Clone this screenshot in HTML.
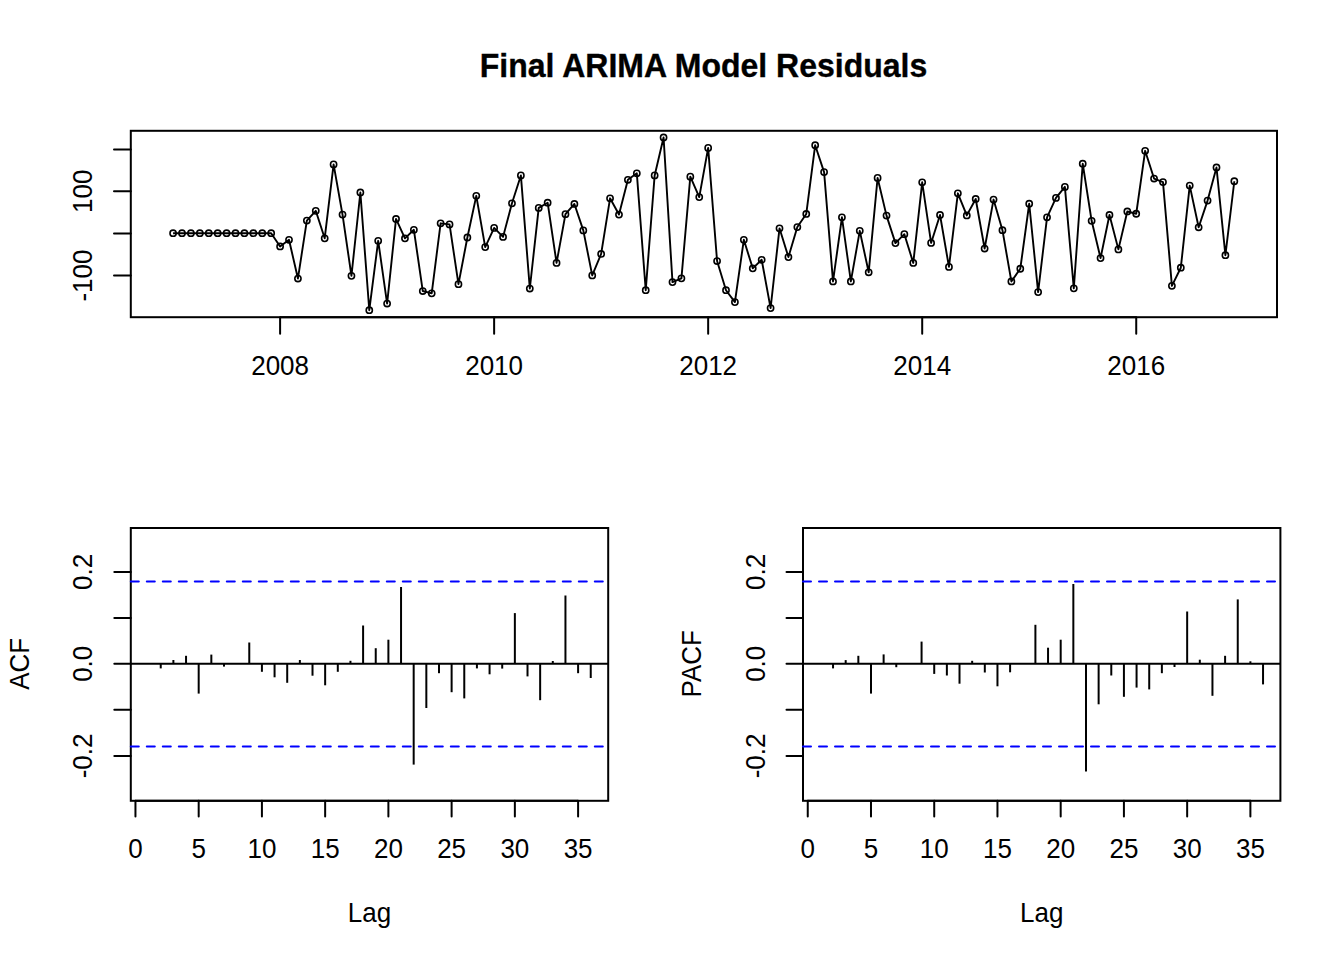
<!DOCTYPE html>
<html><head><meta charset="utf-8"><style>html,body{margin:0;padding:0;background:#fff;}svg{display:block;}</style></head>
<body><svg width="1344" height="960" viewBox="0 0 1344 960">
<rect width="1344" height="960" fill="#fff"/>
<text transform="translate(703.5,76.8) scale(1,1.06)" text-anchor="middle" font-family='"Liberation Sans", sans-serif' font-weight="bold" font-size="32" fill="#000" stroke="#000" stroke-width="0.35">Final ARIMA Model Residuals</text>
<rect x="130.8" y="130.8" width="1146.2" height="186.4" fill="none" stroke="#000" stroke-width="2.0"/>
<line x1="114" y1="149.5" x2="130.8" y2="149.5" stroke="#000" stroke-width="2.0" stroke-linecap="round"/>
<line x1="114" y1="191.3" x2="130.8" y2="191.3" stroke="#000" stroke-width="2.0" stroke-linecap="round"/>
<line x1="114" y1="233.5" x2="130.8" y2="233.5" stroke="#000" stroke-width="2.0" stroke-linecap="round"/>
<line x1="114" y1="275.6" x2="130.8" y2="275.6" stroke="#000" stroke-width="2.0" stroke-linecap="round"/>
<text transform="translate(92,191.3) rotate(-90) scale(1,1.04)" text-anchor="middle" font-family='"Liberation Sans", sans-serif' font-size="26" fill="#000">100</text>
<text transform="translate(92,275.6) rotate(-90) scale(1,1.04)" text-anchor="middle" font-family='"Liberation Sans", sans-serif' font-size="26" fill="#000">-100</text>
<line x1="280.10" y1="317.2" x2="280.10" y2="333.7" stroke="#000" stroke-width="2.0" stroke-linecap="round"/>
<text transform="translate(280.10,374.8) scale(1,1.04)" text-anchor="middle" font-family='"Liberation Sans", sans-serif' font-size="26" fill="#000">2008</text>
<line x1="494.13" y1="317.2" x2="494.13" y2="333.7" stroke="#000" stroke-width="2.0" stroke-linecap="round"/>
<text transform="translate(494.13,374.8) scale(1,1.04)" text-anchor="middle" font-family='"Liberation Sans", sans-serif' font-size="26" fill="#000">2010</text>
<line x1="708.16" y1="317.2" x2="708.16" y2="333.7" stroke="#000" stroke-width="2.0" stroke-linecap="round"/>
<text transform="translate(708.16,374.8) scale(1,1.04)" text-anchor="middle" font-family='"Liberation Sans", sans-serif' font-size="26" fill="#000">2012</text>
<line x1="922.20" y1="317.2" x2="922.20" y2="333.7" stroke="#000" stroke-width="2.0" stroke-linecap="round"/>
<text transform="translate(922.20,374.8) scale(1,1.04)" text-anchor="middle" font-family='"Liberation Sans", sans-serif' font-size="26" fill="#000">2014</text>
<line x1="1136.23" y1="317.2" x2="1136.23" y2="333.7" stroke="#000" stroke-width="2.0" stroke-linecap="round"/>
<text transform="translate(1136.23,374.8) scale(1,1.04)" text-anchor="middle" font-family='"Liberation Sans", sans-serif' font-size="26" fill="#000">2016</text>
<line x1="280.1" y1="317.2" x2="1136.23" y2="317.2" stroke="#000" stroke-width="2.0"/>
<path d="M173.08,233.20 L182.00,233.20 L190.92,233.20 L199.83,233.20 L208.75,233.20 L217.67,233.20 L226.59,233.20 L235.51,233.20 L244.42,233.20 L253.34,233.20 L262.26,233.20 L271.18,233.20 L280.10,246.46 L289.01,239.79 L297.93,278.54 L306.85,220.62 L315.77,210.83 L324.69,238.33 L333.60,164.38 L342.52,214.58 L351.44,275.83 L360.36,192.50 L369.28,310.21 L378.19,240.83 L387.11,303.54 L396.03,218.96 L404.95,238.33 L413.87,229.79 L422.78,291.04 L431.70,293.33 L440.62,223.33 L449.54,224.38 L458.46,284.17 L467.37,237.50 L476.29,195.83 L485.21,247.08 L494.13,227.92 L503.05,236.88 L511.96,203.33 L520.88,175.42 L529.80,288.54 L538.72,207.92 L547.64,202.71 L556.55,262.92 L565.47,214.17 L574.39,203.96 L583.31,230.42 L592.23,275.42 L601.14,253.96 L610.06,198.33 L618.98,214.58 L627.90,179.79 L636.82,173.33 L645.73,290.21 L654.65,175.42 L663.57,137.50 L672.49,282.08 L681.41,278.33 L690.32,176.67 L699.24,197.08 L708.16,147.92 L717.08,261.04 L726.00,290.21 L734.91,302.08 L743.83,239.79 L752.75,268.33 L761.67,259.79 L770.59,308.12 L779.50,228.33 L788.42,257.08 L797.34,227.08 L806.26,213.96 L815.18,145.21 L824.09,172.08 L833.01,281.46 L841.93,217.29 L850.85,281.46 L859.77,230.83 L868.68,272.29 L877.60,177.92 L886.52,215.62 L895.44,243.12 L904.36,234.17 L913.27,262.92 L922.19,182.29 L931.11,242.92 L940.03,215.00 L948.95,266.88 L957.86,193.33 L966.78,215.42 L975.70,198.96 L984.62,248.54 L993.54,199.58 L1002.45,230.21 L1011.37,281.46 L1020.29,268.75 L1029.21,203.75 L1038.13,292.08 L1047.04,217.29 L1055.96,197.92 L1064.88,186.88 L1073.80,288.33 L1082.72,163.75 L1091.63,220.83 L1100.55,258.12 L1109.47,215.00 L1118.39,249.38 L1127.31,211.46 L1136.22,213.75 L1145.14,150.83 L1154.06,178.54 L1162.98,182.08 L1171.90,285.83 L1180.81,267.71 L1189.73,185.62 L1198.65,227.29 L1207.57,200.62 L1216.49,167.50 L1225.40,255.21 L1234.32,181.25" fill="none" stroke="#000" stroke-width="1.9" stroke-linejoin="round"/>
<circle cx="173.08" cy="233.20" r="3.1" fill="none" stroke="#000" stroke-width="1.6"/>
<circle cx="182.00" cy="233.20" r="3.1" fill="none" stroke="#000" stroke-width="1.6"/>
<circle cx="190.92" cy="233.20" r="3.1" fill="none" stroke="#000" stroke-width="1.6"/>
<circle cx="199.83" cy="233.20" r="3.1" fill="none" stroke="#000" stroke-width="1.6"/>
<circle cx="208.75" cy="233.20" r="3.1" fill="none" stroke="#000" stroke-width="1.6"/>
<circle cx="217.67" cy="233.20" r="3.1" fill="none" stroke="#000" stroke-width="1.6"/>
<circle cx="226.59" cy="233.20" r="3.1" fill="none" stroke="#000" stroke-width="1.6"/>
<circle cx="235.51" cy="233.20" r="3.1" fill="none" stroke="#000" stroke-width="1.6"/>
<circle cx="244.42" cy="233.20" r="3.1" fill="none" stroke="#000" stroke-width="1.6"/>
<circle cx="253.34" cy="233.20" r="3.1" fill="none" stroke="#000" stroke-width="1.6"/>
<circle cx="262.26" cy="233.20" r="3.1" fill="none" stroke="#000" stroke-width="1.6"/>
<circle cx="271.18" cy="233.20" r="3.1" fill="none" stroke="#000" stroke-width="1.6"/>
<circle cx="280.10" cy="246.46" r="3.1" fill="none" stroke="#000" stroke-width="1.6"/>
<circle cx="289.01" cy="239.79" r="3.1" fill="none" stroke="#000" stroke-width="1.6"/>
<circle cx="297.93" cy="278.54" r="3.1" fill="none" stroke="#000" stroke-width="1.6"/>
<circle cx="306.85" cy="220.62" r="3.1" fill="none" stroke="#000" stroke-width="1.6"/>
<circle cx="315.77" cy="210.83" r="3.1" fill="none" stroke="#000" stroke-width="1.6"/>
<circle cx="324.69" cy="238.33" r="3.1" fill="none" stroke="#000" stroke-width="1.6"/>
<circle cx="333.60" cy="164.38" r="3.1" fill="none" stroke="#000" stroke-width="1.6"/>
<circle cx="342.52" cy="214.58" r="3.1" fill="none" stroke="#000" stroke-width="1.6"/>
<circle cx="351.44" cy="275.83" r="3.1" fill="none" stroke="#000" stroke-width="1.6"/>
<circle cx="360.36" cy="192.50" r="3.1" fill="none" stroke="#000" stroke-width="1.6"/>
<circle cx="369.28" cy="310.21" r="3.1" fill="none" stroke="#000" stroke-width="1.6"/>
<circle cx="378.19" cy="240.83" r="3.1" fill="none" stroke="#000" stroke-width="1.6"/>
<circle cx="387.11" cy="303.54" r="3.1" fill="none" stroke="#000" stroke-width="1.6"/>
<circle cx="396.03" cy="218.96" r="3.1" fill="none" stroke="#000" stroke-width="1.6"/>
<circle cx="404.95" cy="238.33" r="3.1" fill="none" stroke="#000" stroke-width="1.6"/>
<circle cx="413.87" cy="229.79" r="3.1" fill="none" stroke="#000" stroke-width="1.6"/>
<circle cx="422.78" cy="291.04" r="3.1" fill="none" stroke="#000" stroke-width="1.6"/>
<circle cx="431.70" cy="293.33" r="3.1" fill="none" stroke="#000" stroke-width="1.6"/>
<circle cx="440.62" cy="223.33" r="3.1" fill="none" stroke="#000" stroke-width="1.6"/>
<circle cx="449.54" cy="224.38" r="3.1" fill="none" stroke="#000" stroke-width="1.6"/>
<circle cx="458.46" cy="284.17" r="3.1" fill="none" stroke="#000" stroke-width="1.6"/>
<circle cx="467.37" cy="237.50" r="3.1" fill="none" stroke="#000" stroke-width="1.6"/>
<circle cx="476.29" cy="195.83" r="3.1" fill="none" stroke="#000" stroke-width="1.6"/>
<circle cx="485.21" cy="247.08" r="3.1" fill="none" stroke="#000" stroke-width="1.6"/>
<circle cx="494.13" cy="227.92" r="3.1" fill="none" stroke="#000" stroke-width="1.6"/>
<circle cx="503.05" cy="236.88" r="3.1" fill="none" stroke="#000" stroke-width="1.6"/>
<circle cx="511.96" cy="203.33" r="3.1" fill="none" stroke="#000" stroke-width="1.6"/>
<circle cx="520.88" cy="175.42" r="3.1" fill="none" stroke="#000" stroke-width="1.6"/>
<circle cx="529.80" cy="288.54" r="3.1" fill="none" stroke="#000" stroke-width="1.6"/>
<circle cx="538.72" cy="207.92" r="3.1" fill="none" stroke="#000" stroke-width="1.6"/>
<circle cx="547.64" cy="202.71" r="3.1" fill="none" stroke="#000" stroke-width="1.6"/>
<circle cx="556.55" cy="262.92" r="3.1" fill="none" stroke="#000" stroke-width="1.6"/>
<circle cx="565.47" cy="214.17" r="3.1" fill="none" stroke="#000" stroke-width="1.6"/>
<circle cx="574.39" cy="203.96" r="3.1" fill="none" stroke="#000" stroke-width="1.6"/>
<circle cx="583.31" cy="230.42" r="3.1" fill="none" stroke="#000" stroke-width="1.6"/>
<circle cx="592.23" cy="275.42" r="3.1" fill="none" stroke="#000" stroke-width="1.6"/>
<circle cx="601.14" cy="253.96" r="3.1" fill="none" stroke="#000" stroke-width="1.6"/>
<circle cx="610.06" cy="198.33" r="3.1" fill="none" stroke="#000" stroke-width="1.6"/>
<circle cx="618.98" cy="214.58" r="3.1" fill="none" stroke="#000" stroke-width="1.6"/>
<circle cx="627.90" cy="179.79" r="3.1" fill="none" stroke="#000" stroke-width="1.6"/>
<circle cx="636.82" cy="173.33" r="3.1" fill="none" stroke="#000" stroke-width="1.6"/>
<circle cx="645.73" cy="290.21" r="3.1" fill="none" stroke="#000" stroke-width="1.6"/>
<circle cx="654.65" cy="175.42" r="3.1" fill="none" stroke="#000" stroke-width="1.6"/>
<circle cx="663.57" cy="137.50" r="3.1" fill="none" stroke="#000" stroke-width="1.6"/>
<circle cx="672.49" cy="282.08" r="3.1" fill="none" stroke="#000" stroke-width="1.6"/>
<circle cx="681.41" cy="278.33" r="3.1" fill="none" stroke="#000" stroke-width="1.6"/>
<circle cx="690.32" cy="176.67" r="3.1" fill="none" stroke="#000" stroke-width="1.6"/>
<circle cx="699.24" cy="197.08" r="3.1" fill="none" stroke="#000" stroke-width="1.6"/>
<circle cx="708.16" cy="147.92" r="3.1" fill="none" stroke="#000" stroke-width="1.6"/>
<circle cx="717.08" cy="261.04" r="3.1" fill="none" stroke="#000" stroke-width="1.6"/>
<circle cx="726.00" cy="290.21" r="3.1" fill="none" stroke="#000" stroke-width="1.6"/>
<circle cx="734.91" cy="302.08" r="3.1" fill="none" stroke="#000" stroke-width="1.6"/>
<circle cx="743.83" cy="239.79" r="3.1" fill="none" stroke="#000" stroke-width="1.6"/>
<circle cx="752.75" cy="268.33" r="3.1" fill="none" stroke="#000" stroke-width="1.6"/>
<circle cx="761.67" cy="259.79" r="3.1" fill="none" stroke="#000" stroke-width="1.6"/>
<circle cx="770.59" cy="308.12" r="3.1" fill="none" stroke="#000" stroke-width="1.6"/>
<circle cx="779.50" cy="228.33" r="3.1" fill="none" stroke="#000" stroke-width="1.6"/>
<circle cx="788.42" cy="257.08" r="3.1" fill="none" stroke="#000" stroke-width="1.6"/>
<circle cx="797.34" cy="227.08" r="3.1" fill="none" stroke="#000" stroke-width="1.6"/>
<circle cx="806.26" cy="213.96" r="3.1" fill="none" stroke="#000" stroke-width="1.6"/>
<circle cx="815.18" cy="145.21" r="3.1" fill="none" stroke="#000" stroke-width="1.6"/>
<circle cx="824.09" cy="172.08" r="3.1" fill="none" stroke="#000" stroke-width="1.6"/>
<circle cx="833.01" cy="281.46" r="3.1" fill="none" stroke="#000" stroke-width="1.6"/>
<circle cx="841.93" cy="217.29" r="3.1" fill="none" stroke="#000" stroke-width="1.6"/>
<circle cx="850.85" cy="281.46" r="3.1" fill="none" stroke="#000" stroke-width="1.6"/>
<circle cx="859.77" cy="230.83" r="3.1" fill="none" stroke="#000" stroke-width="1.6"/>
<circle cx="868.68" cy="272.29" r="3.1" fill="none" stroke="#000" stroke-width="1.6"/>
<circle cx="877.60" cy="177.92" r="3.1" fill="none" stroke="#000" stroke-width="1.6"/>
<circle cx="886.52" cy="215.62" r="3.1" fill="none" stroke="#000" stroke-width="1.6"/>
<circle cx="895.44" cy="243.12" r="3.1" fill="none" stroke="#000" stroke-width="1.6"/>
<circle cx="904.36" cy="234.17" r="3.1" fill="none" stroke="#000" stroke-width="1.6"/>
<circle cx="913.27" cy="262.92" r="3.1" fill="none" stroke="#000" stroke-width="1.6"/>
<circle cx="922.19" cy="182.29" r="3.1" fill="none" stroke="#000" stroke-width="1.6"/>
<circle cx="931.11" cy="242.92" r="3.1" fill="none" stroke="#000" stroke-width="1.6"/>
<circle cx="940.03" cy="215.00" r="3.1" fill="none" stroke="#000" stroke-width="1.6"/>
<circle cx="948.95" cy="266.88" r="3.1" fill="none" stroke="#000" stroke-width="1.6"/>
<circle cx="957.86" cy="193.33" r="3.1" fill="none" stroke="#000" stroke-width="1.6"/>
<circle cx="966.78" cy="215.42" r="3.1" fill="none" stroke="#000" stroke-width="1.6"/>
<circle cx="975.70" cy="198.96" r="3.1" fill="none" stroke="#000" stroke-width="1.6"/>
<circle cx="984.62" cy="248.54" r="3.1" fill="none" stroke="#000" stroke-width="1.6"/>
<circle cx="993.54" cy="199.58" r="3.1" fill="none" stroke="#000" stroke-width="1.6"/>
<circle cx="1002.45" cy="230.21" r="3.1" fill="none" stroke="#000" stroke-width="1.6"/>
<circle cx="1011.37" cy="281.46" r="3.1" fill="none" stroke="#000" stroke-width="1.6"/>
<circle cx="1020.29" cy="268.75" r="3.1" fill="none" stroke="#000" stroke-width="1.6"/>
<circle cx="1029.21" cy="203.75" r="3.1" fill="none" stroke="#000" stroke-width="1.6"/>
<circle cx="1038.13" cy="292.08" r="3.1" fill="none" stroke="#000" stroke-width="1.6"/>
<circle cx="1047.04" cy="217.29" r="3.1" fill="none" stroke="#000" stroke-width="1.6"/>
<circle cx="1055.96" cy="197.92" r="3.1" fill="none" stroke="#000" stroke-width="1.6"/>
<circle cx="1064.88" cy="186.88" r="3.1" fill="none" stroke="#000" stroke-width="1.6"/>
<circle cx="1073.80" cy="288.33" r="3.1" fill="none" stroke="#000" stroke-width="1.6"/>
<circle cx="1082.72" cy="163.75" r="3.1" fill="none" stroke="#000" stroke-width="1.6"/>
<circle cx="1091.63" cy="220.83" r="3.1" fill="none" stroke="#000" stroke-width="1.6"/>
<circle cx="1100.55" cy="258.12" r="3.1" fill="none" stroke="#000" stroke-width="1.6"/>
<circle cx="1109.47" cy="215.00" r="3.1" fill="none" stroke="#000" stroke-width="1.6"/>
<circle cx="1118.39" cy="249.38" r="3.1" fill="none" stroke="#000" stroke-width="1.6"/>
<circle cx="1127.31" cy="211.46" r="3.1" fill="none" stroke="#000" stroke-width="1.6"/>
<circle cx="1136.22" cy="213.75" r="3.1" fill="none" stroke="#000" stroke-width="1.6"/>
<circle cx="1145.14" cy="150.83" r="3.1" fill="none" stroke="#000" stroke-width="1.6"/>
<circle cx="1154.06" cy="178.54" r="3.1" fill="none" stroke="#000" stroke-width="1.6"/>
<circle cx="1162.98" cy="182.08" r="3.1" fill="none" stroke="#000" stroke-width="1.6"/>
<circle cx="1171.90" cy="285.83" r="3.1" fill="none" stroke="#000" stroke-width="1.6"/>
<circle cx="1180.81" cy="267.71" r="3.1" fill="none" stroke="#000" stroke-width="1.6"/>
<circle cx="1189.73" cy="185.62" r="3.1" fill="none" stroke="#000" stroke-width="1.6"/>
<circle cx="1198.65" cy="227.29" r="3.1" fill="none" stroke="#000" stroke-width="1.6"/>
<circle cx="1207.57" cy="200.62" r="3.1" fill="none" stroke="#000" stroke-width="1.6"/>
<circle cx="1216.49" cy="167.50" r="3.1" fill="none" stroke="#000" stroke-width="1.6"/>
<circle cx="1225.40" cy="255.21" r="3.1" fill="none" stroke="#000" stroke-width="1.6"/>
<circle cx="1234.32" cy="181.25" r="3.1" fill="none" stroke="#000" stroke-width="1.6"/>
<rect x="130.8" y="528.0" width="477.4" height="272.8" fill="none" stroke="#000" stroke-width="2.0"/>
<line x1="114.3" y1="571.9" x2="130.8" y2="571.9" stroke="#000" stroke-width="2.0" stroke-linecap="round"/>
<line x1="114.3" y1="617.9" x2="130.8" y2="617.9" stroke="#000" stroke-width="2.0" stroke-linecap="round"/>
<line x1="114.3" y1="663.8" x2="130.8" y2="663.8" stroke="#000" stroke-width="2.0" stroke-linecap="round"/>
<line x1="114.3" y1="709.8" x2="130.8" y2="709.8" stroke="#000" stroke-width="2.0" stroke-linecap="round"/>
<line x1="114.3" y1="755.9" x2="130.8" y2="755.9" stroke="#000" stroke-width="2.0" stroke-linecap="round"/>
<text transform="translate(92.3,571.9) rotate(-90) scale(1,1.04)" text-anchor="middle" font-family='"Liberation Sans", sans-serif' font-size="26" fill="#000">0.2</text>
<text transform="translate(92.3,663.8) rotate(-90) scale(1,1.04)" text-anchor="middle" font-family='"Liberation Sans", sans-serif' font-size="26" fill="#000">0.0</text>
<text transform="translate(92.3,755.9) rotate(-90) scale(1,1.04)" text-anchor="middle" font-family='"Liberation Sans", sans-serif' font-size="26" fill="#000">-0.2</text>
<text transform="translate(29.3,663.8) rotate(-90) scale(1,1.04)" text-anchor="middle" font-family='"Liberation Sans", sans-serif' font-size="26" fill="#000">ACF</text>
<line x1="135.45" y1="800.8" x2="135.45" y2="816.5" stroke="#000" stroke-width="2.0" stroke-linecap="round"/>
<text transform="translate(135.45,857.9) scale(1,1.04)" text-anchor="middle" font-family='"Liberation Sans", sans-serif' font-size="26" fill="#000">0</text>
<line x1="198.69" y1="800.8" x2="198.69" y2="816.5" stroke="#000" stroke-width="2.0" stroke-linecap="round"/>
<text transform="translate(198.69,857.9) scale(1,1.04)" text-anchor="middle" font-family='"Liberation Sans", sans-serif' font-size="26" fill="#000">5</text>
<line x1="261.92" y1="800.8" x2="261.92" y2="816.5" stroke="#000" stroke-width="2.0" stroke-linecap="round"/>
<text transform="translate(261.92,857.9) scale(1,1.04)" text-anchor="middle" font-family='"Liberation Sans", sans-serif' font-size="26" fill="#000">10</text>
<line x1="325.15" y1="800.8" x2="325.15" y2="816.5" stroke="#000" stroke-width="2.0" stroke-linecap="round"/>
<text transform="translate(325.15,857.9) scale(1,1.04)" text-anchor="middle" font-family='"Liberation Sans", sans-serif' font-size="26" fill="#000">15</text>
<line x1="388.39" y1="800.8" x2="388.39" y2="816.5" stroke="#000" stroke-width="2.0" stroke-linecap="round"/>
<text transform="translate(388.39,857.9) scale(1,1.04)" text-anchor="middle" font-family='"Liberation Sans", sans-serif' font-size="26" fill="#000">20</text>
<line x1="451.62" y1="800.8" x2="451.62" y2="816.5" stroke="#000" stroke-width="2.0" stroke-linecap="round"/>
<text transform="translate(451.62,857.9) scale(1,1.04)" text-anchor="middle" font-family='"Liberation Sans", sans-serif' font-size="26" fill="#000">25</text>
<line x1="514.86" y1="800.8" x2="514.86" y2="816.5" stroke="#000" stroke-width="2.0" stroke-linecap="round"/>
<text transform="translate(514.86,857.9) scale(1,1.04)" text-anchor="middle" font-family='"Liberation Sans", sans-serif' font-size="26" fill="#000">30</text>
<line x1="578.10" y1="800.8" x2="578.10" y2="816.5" stroke="#000" stroke-width="2.0" stroke-linecap="round"/>
<text transform="translate(578.10,857.9) scale(1,1.04)" text-anchor="middle" font-family='"Liberation Sans", sans-serif' font-size="26" fill="#000">35</text>
<line x1="135.45" y1="800.8" x2="578.10" y2="800.8" stroke="#000" stroke-width="2.0"/>
<text transform="translate(369.5,922) scale(1,1.04)" text-anchor="middle" font-family='"Liberation Sans", sans-serif' font-size="26" fill="#000">Lag</text>
<line x1="130.8" y1="663.8" x2="608.2" y2="663.8" stroke="#000" stroke-width="2.0"/>
<line x1="148.10" y1="663.8" x2="148.10" y2="663.5" stroke="#000" stroke-width="2.0"/>
<line x1="160.74" y1="663.8" x2="160.74" y2="668.4" stroke="#000" stroke-width="2.0"/>
<line x1="173.39" y1="663.8" x2="173.39" y2="660" stroke="#000" stroke-width="2.0"/>
<line x1="186.04" y1="663.8" x2="186.04" y2="655.8" stroke="#000" stroke-width="2.0"/>
<line x1="198.69" y1="663.8" x2="198.69" y2="693.6" stroke="#000" stroke-width="2.0"/>
<line x1="211.33" y1="663.8" x2="211.33" y2="654.6" stroke="#000" stroke-width="2.0"/>
<line x1="223.98" y1="663.8" x2="223.98" y2="666.6" stroke="#000" stroke-width="2.0"/>
<line x1="236.63" y1="663.8" x2="236.63" y2="663.2" stroke="#000" stroke-width="2.0"/>
<line x1="249.27" y1="663.8" x2="249.27" y2="642.5" stroke="#000" stroke-width="2.0"/>
<line x1="261.92" y1="663.8" x2="261.92" y2="671.8" stroke="#000" stroke-width="2.0"/>
<line x1="274.57" y1="663.8" x2="274.57" y2="677.3" stroke="#000" stroke-width="2.0"/>
<line x1="287.21" y1="663.8" x2="287.21" y2="682.8" stroke="#000" stroke-width="2.0"/>
<line x1="299.86" y1="663.8" x2="299.86" y2="660" stroke="#000" stroke-width="2.0"/>
<line x1="312.51" y1="663.8" x2="312.51" y2="675.7" stroke="#000" stroke-width="2.0"/>
<line x1="325.15" y1="663.8" x2="325.15" y2="685.3" stroke="#000" stroke-width="2.0"/>
<line x1="337.80" y1="663.8" x2="337.80" y2="671.8" stroke="#000" stroke-width="2.0"/>
<line x1="350.45" y1="663.8" x2="350.45" y2="660.8" stroke="#000" stroke-width="2.0"/>
<line x1="363.10" y1="663.8" x2="363.10" y2="625.5" stroke="#000" stroke-width="2.0"/>
<line x1="375.74" y1="663.8" x2="375.74" y2="648.2" stroke="#000" stroke-width="2.0"/>
<line x1="388.39" y1="663.8" x2="388.39" y2="639.7" stroke="#000" stroke-width="2.0"/>
<line x1="401.04" y1="663.8" x2="401.04" y2="587" stroke="#000" stroke-width="2.0"/>
<line x1="413.68" y1="663.8" x2="413.68" y2="764.6" stroke="#000" stroke-width="2.0"/>
<line x1="426.33" y1="663.8" x2="426.33" y2="708" stroke="#000" stroke-width="2.0"/>
<line x1="438.98" y1="663.8" x2="438.98" y2="673.2" stroke="#000" stroke-width="2.0"/>
<line x1="451.62" y1="663.8" x2="451.62" y2="692.2" stroke="#000" stroke-width="2.0"/>
<line x1="464.27" y1="663.8" x2="464.27" y2="698.4" stroke="#000" stroke-width="2.0"/>
<line x1="476.92" y1="663.8" x2="476.92" y2="668.4" stroke="#000" stroke-width="2.0"/>
<line x1="489.57" y1="663.8" x2="489.57" y2="674.3" stroke="#000" stroke-width="2.0"/>
<line x1="502.21" y1="663.8" x2="502.21" y2="668.6" stroke="#000" stroke-width="2.0"/>
<line x1="514.86" y1="663.8" x2="514.86" y2="613.1" stroke="#000" stroke-width="2.0"/>
<line x1="527.51" y1="663.8" x2="527.51" y2="676.4" stroke="#000" stroke-width="2.0"/>
<line x1="540.15" y1="663.8" x2="540.15" y2="700.2" stroke="#000" stroke-width="2.0"/>
<line x1="552.80" y1="663.8" x2="552.80" y2="661" stroke="#000" stroke-width="2.0"/>
<line x1="565.45" y1="663.8" x2="565.45" y2="595.5" stroke="#000" stroke-width="2.0"/>
<line x1="578.10" y1="663.8" x2="578.10" y2="673.2" stroke="#000" stroke-width="2.0"/>
<line x1="590.74" y1="663.8" x2="590.74" y2="678" stroke="#000" stroke-width="2.0"/>
<line x1="130.8" y1="581.6" x2="608.2" y2="581.6" stroke="#0000ff" stroke-width="2.0" stroke-dasharray="8 8" stroke-linecap="round"/>
<line x1="130.8" y1="746.4" x2="608.2" y2="746.4" stroke="#0000ff" stroke-width="2.0" stroke-dasharray="8 8" stroke-linecap="round"/>
<rect x="803.0" y="528.0" width="477.4" height="272.8" fill="none" stroke="#000" stroke-width="2.0"/>
<line x1="786.5" y1="571.9" x2="803.0" y2="571.9" stroke="#000" stroke-width="2.0" stroke-linecap="round"/>
<line x1="786.5" y1="617.9" x2="803.0" y2="617.9" stroke="#000" stroke-width="2.0" stroke-linecap="round"/>
<line x1="786.5" y1="663.8" x2="803.0" y2="663.8" stroke="#000" stroke-width="2.0" stroke-linecap="round"/>
<line x1="786.5" y1="709.8" x2="803.0" y2="709.8" stroke="#000" stroke-width="2.0" stroke-linecap="round"/>
<line x1="786.5" y1="755.9" x2="803.0" y2="755.9" stroke="#000" stroke-width="2.0" stroke-linecap="round"/>
<text transform="translate(764.5,571.9) rotate(-90) scale(1,1.04)" text-anchor="middle" font-family='"Liberation Sans", sans-serif' font-size="26" fill="#000">0.2</text>
<text transform="translate(764.5,663.8) rotate(-90) scale(1,1.04)" text-anchor="middle" font-family='"Liberation Sans", sans-serif' font-size="26" fill="#000">0.0</text>
<text transform="translate(764.5,755.9) rotate(-90) scale(1,1.04)" text-anchor="middle" font-family='"Liberation Sans", sans-serif' font-size="26" fill="#000">-0.2</text>
<text transform="translate(701.3,663.8) rotate(-90) scale(1,1.04)" text-anchor="middle" font-family='"Liberation Sans", sans-serif' font-size="26" fill="#000">PACF</text>
<line x1="807.75" y1="800.8" x2="807.75" y2="816.5" stroke="#000" stroke-width="2.0" stroke-linecap="round"/>
<text transform="translate(807.75,857.9) scale(1,1.04)" text-anchor="middle" font-family='"Liberation Sans", sans-serif' font-size="26" fill="#000">0</text>
<line x1="870.99" y1="800.8" x2="870.99" y2="816.5" stroke="#000" stroke-width="2.0" stroke-linecap="round"/>
<text transform="translate(870.99,857.9) scale(1,1.04)" text-anchor="middle" font-family='"Liberation Sans", sans-serif' font-size="26" fill="#000">5</text>
<line x1="934.22" y1="800.8" x2="934.22" y2="816.5" stroke="#000" stroke-width="2.0" stroke-linecap="round"/>
<text transform="translate(934.22,857.9) scale(1,1.04)" text-anchor="middle" font-family='"Liberation Sans", sans-serif' font-size="26" fill="#000">10</text>
<line x1="997.46" y1="800.8" x2="997.46" y2="816.5" stroke="#000" stroke-width="2.0" stroke-linecap="round"/>
<text transform="translate(997.46,857.9) scale(1,1.04)" text-anchor="middle" font-family='"Liberation Sans", sans-serif' font-size="26" fill="#000">15</text>
<line x1="1060.69" y1="800.8" x2="1060.69" y2="816.5" stroke="#000" stroke-width="2.0" stroke-linecap="round"/>
<text transform="translate(1060.69,857.9) scale(1,1.04)" text-anchor="middle" font-family='"Liberation Sans", sans-serif' font-size="26" fill="#000">20</text>
<line x1="1123.92" y1="800.8" x2="1123.92" y2="816.5" stroke="#000" stroke-width="2.0" stroke-linecap="round"/>
<text transform="translate(1123.92,857.9) scale(1,1.04)" text-anchor="middle" font-family='"Liberation Sans", sans-serif' font-size="26" fill="#000">25</text>
<line x1="1187.16" y1="800.8" x2="1187.16" y2="816.5" stroke="#000" stroke-width="2.0" stroke-linecap="round"/>
<text transform="translate(1187.16,857.9) scale(1,1.04)" text-anchor="middle" font-family='"Liberation Sans", sans-serif' font-size="26" fill="#000">30</text>
<line x1="1250.39" y1="800.8" x2="1250.39" y2="816.5" stroke="#000" stroke-width="2.0" stroke-linecap="round"/>
<text transform="translate(1250.39,857.9) scale(1,1.04)" text-anchor="middle" font-family='"Liberation Sans", sans-serif' font-size="26" fill="#000">35</text>
<line x1="807.75" y1="800.8" x2="1250.39" y2="800.8" stroke="#000" stroke-width="2.0"/>
<text transform="translate(1041.7,922) scale(1,1.04)" text-anchor="middle" font-family='"Liberation Sans", sans-serif' font-size="26" fill="#000">Lag</text>
<line x1="803.0" y1="663.8" x2="1280.4" y2="663.8" stroke="#000" stroke-width="2.0"/>
<line x1="820.40" y1="663.8" x2="820.40" y2="663.5" stroke="#000" stroke-width="2.0"/>
<line x1="833.04" y1="663.8" x2="833.04" y2="668.4" stroke="#000" stroke-width="2.0"/>
<line x1="845.69" y1="663.8" x2="845.69" y2="660.1" stroke="#000" stroke-width="2.0"/>
<line x1="858.34" y1="663.8" x2="858.34" y2="655.8" stroke="#000" stroke-width="2.0"/>
<line x1="870.99" y1="663.8" x2="870.99" y2="693.6" stroke="#000" stroke-width="2.0"/>
<line x1="883.63" y1="663.8" x2="883.63" y2="654.4" stroke="#000" stroke-width="2.0"/>
<line x1="896.28" y1="663.8" x2="896.28" y2="667.2" stroke="#000" stroke-width="2.0"/>
<line x1="908.93" y1="663.8" x2="908.93" y2="663.3" stroke="#000" stroke-width="2.0"/>
<line x1="921.57" y1="663.8" x2="921.57" y2="641.6" stroke="#000" stroke-width="2.0"/>
<line x1="934.22" y1="663.8" x2="934.22" y2="673.9" stroke="#000" stroke-width="2.0"/>
<line x1="946.87" y1="663.8" x2="946.87" y2="675.5" stroke="#000" stroke-width="2.0"/>
<line x1="959.51" y1="663.8" x2="959.51" y2="683.7" stroke="#000" stroke-width="2.0"/>
<line x1="972.16" y1="663.8" x2="972.16" y2="660.8" stroke="#000" stroke-width="2.0"/>
<line x1="984.81" y1="663.8" x2="984.81" y2="672.5" stroke="#000" stroke-width="2.0"/>
<line x1="997.46" y1="663.8" x2="997.46" y2="686.3" stroke="#000" stroke-width="2.0"/>
<line x1="1010.10" y1="663.8" x2="1010.10" y2="672.3" stroke="#000" stroke-width="2.0"/>
<line x1="1022.75" y1="663.8" x2="1022.75" y2="663.3" stroke="#000" stroke-width="2.0"/>
<line x1="1035.40" y1="663.8" x2="1035.40" y2="624.8" stroke="#000" stroke-width="2.0"/>
<line x1="1048.04" y1="663.8" x2="1048.04" y2="647.7" stroke="#000" stroke-width="2.0"/>
<line x1="1060.69" y1="663.8" x2="1060.69" y2="639.7" stroke="#000" stroke-width="2.0"/>
<line x1="1073.34" y1="663.8" x2="1073.34" y2="584" stroke="#000" stroke-width="2.0"/>
<line x1="1085.98" y1="663.8" x2="1085.98" y2="771.5" stroke="#000" stroke-width="2.0"/>
<line x1="1098.63" y1="663.8" x2="1098.63" y2="704.3" stroke="#000" stroke-width="2.0"/>
<line x1="1111.28" y1="663.8" x2="1111.28" y2="675.5" stroke="#000" stroke-width="2.0"/>
<line x1="1123.92" y1="663.8" x2="1123.92" y2="696.8" stroke="#000" stroke-width="2.0"/>
<line x1="1136.57" y1="663.8" x2="1136.57" y2="687.6" stroke="#000" stroke-width="2.0"/>
<line x1="1149.22" y1="663.8" x2="1149.22" y2="689.4" stroke="#000" stroke-width="2.0"/>
<line x1="1161.87" y1="663.8" x2="1161.87" y2="673.2" stroke="#000" stroke-width="2.0"/>
<line x1="1174.51" y1="663.8" x2="1174.51" y2="667" stroke="#000" stroke-width="2.0"/>
<line x1="1187.16" y1="663.8" x2="1187.16" y2="611.5" stroke="#000" stroke-width="2.0"/>
<line x1="1199.81" y1="663.8" x2="1199.81" y2="659.7" stroke="#000" stroke-width="2.0"/>
<line x1="1212.45" y1="663.8" x2="1212.45" y2="695.8" stroke="#000" stroke-width="2.0"/>
<line x1="1225.10" y1="663.8" x2="1225.10" y2="655.8" stroke="#000" stroke-width="2.0"/>
<line x1="1237.75" y1="663.8" x2="1237.75" y2="599.4" stroke="#000" stroke-width="2.0"/>
<line x1="1250.39" y1="663.8" x2="1250.39" y2="661.3" stroke="#000" stroke-width="2.0"/>
<line x1="1263.04" y1="663.8" x2="1263.04" y2="684.4" stroke="#000" stroke-width="2.0"/>
<line x1="803.0" y1="581.6" x2="1280.4" y2="581.6" stroke="#0000ff" stroke-width="2.0" stroke-dasharray="8 8" stroke-linecap="round"/>
<line x1="803.0" y1="746.4" x2="1280.4" y2="746.4" stroke="#0000ff" stroke-width="2.0" stroke-dasharray="8 8" stroke-linecap="round"/>
</svg></body></html>
